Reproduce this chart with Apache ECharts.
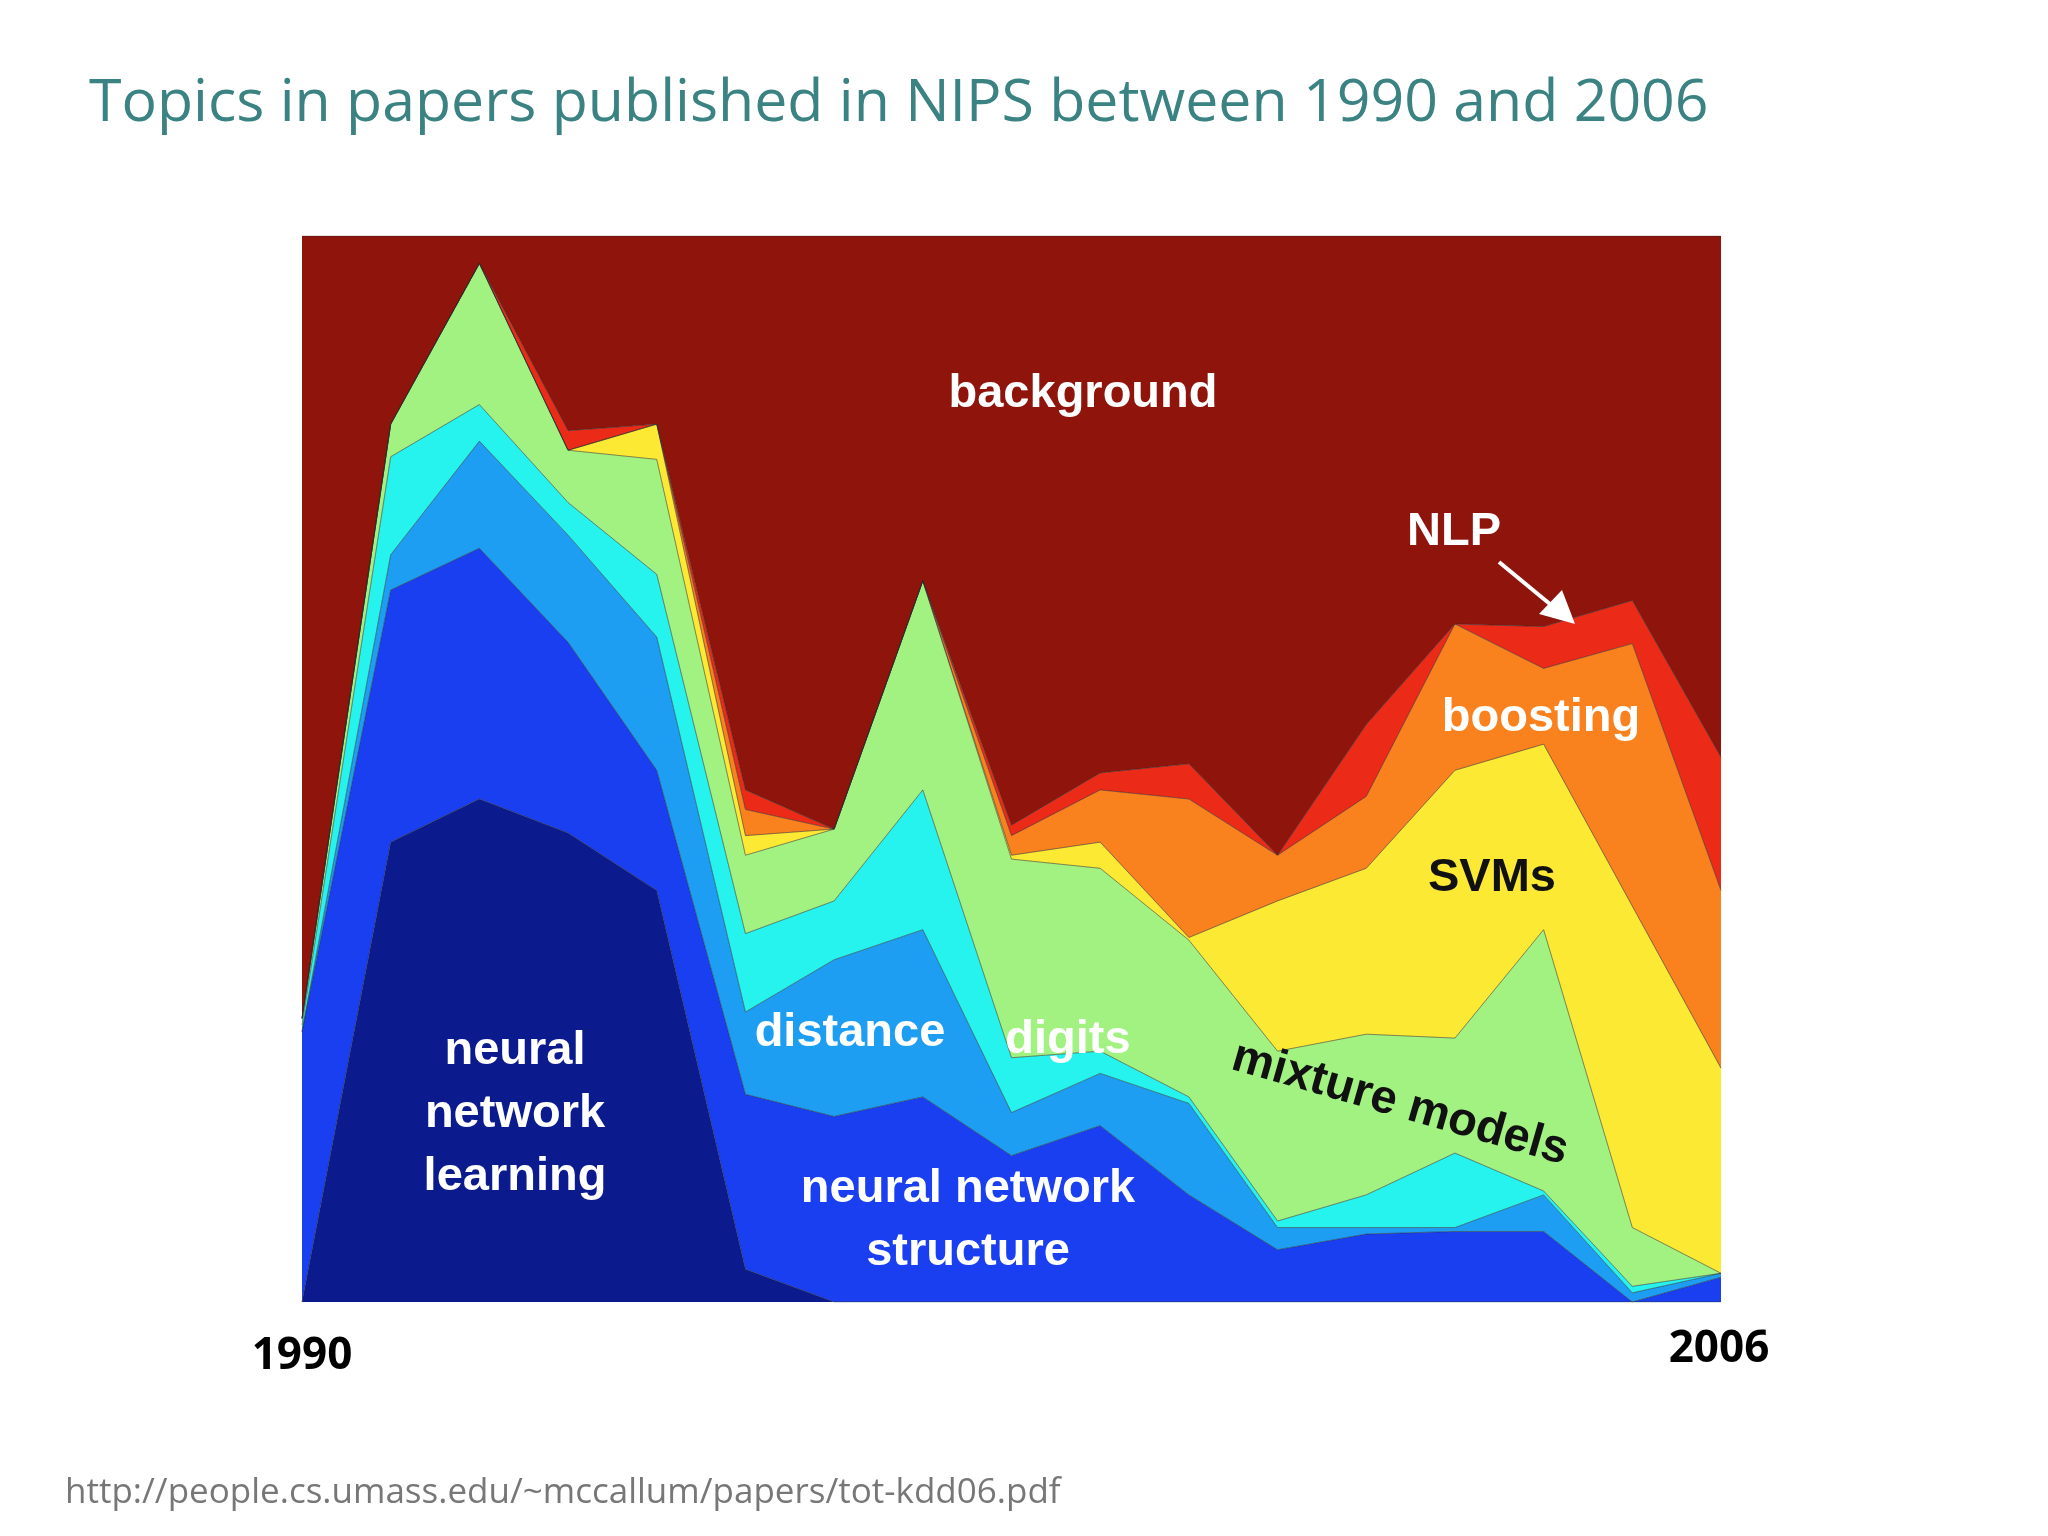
<!DOCTYPE html>
<html><head><meta charset="utf-8">
<script src="https://cdn.jsdelivr.net/npm/echarts@6/dist/echarts.min.js"></script>
<style>html,body{margin:0;background:#fff}#c{width:2048px;height:1536px}</style>
</head><body><div id="c"></div>
<script>
const years = ['1990','1991','1992','1993','1994','1995','1996','1997','1998','1999','2000','2001','2002','2003','2004','2005','2006'];
const nnLearning  = [0,352,385,359,315,25,0,0,0,0,0,0,0,0,0,0,0];
const nnStructure = [207,193,192,146,92,134,142,157,112,135,82,40,52,54,54,0,19];
const distance    = [0,27,82,82,102,63,120,128,33,40,70,17,5,3,28,7,3];
const digits      = [5,75,28,25,48,60,45,107,42,17,5,5,25,57,3,5,0];
const mixture     = [5,25,108,40,88,60,55,160,152,140,120,130,123,88,200,45,0];
const svms        = [0,0,0,0,27,15,0,0,3,20,2,115,127,205,142,246,157];
const boosting    = [0,0,0,0,0,20,0,0,15,40,106,35,55,112,58,201,136];
const nlp         = [0,0,0,15,0,15,0,0,8,13,27,0,55,0,32,33,102];
const background  = [599,144,21,149,144,424,454,264,451,411,404,474,374,297,299,279,399];

const S = 2048/1568;
const p = v => Math.round(v*S);
const layers = [
  ['neural network learning', nnLearning, '#0b1b8e'],
  ['neural network structure', nnStructure, '#1a3ff0'],
  ['distance', distance, '#1e9ef2'],
  ['digits', digits, '#26f2ee'],
  ['mixture models', mixture, '#a2f282'],
  ['SVMs', svms, '#fbe934'],
  ['boosting', boosting, '#f9821f'],
  ['NLP', nlp, '#ec2a18'],
  ['background', background, '#8e140c']
];
const series = layers.map(([n,d,c]) => ({
  name:n, type:'line', stack:'all', data:d, symbol:'none', smooth:false,
  lineStyle:{width:1, color:'rgba(40,40,40,0.55)'},
  areaStyle:{color:c, opacity:1}
}));
function lbl(text,x,y,color,size,extra){
  return Object.assign({type:'text', x:p(x), y:p(y), style:{text, fill:color||'#fff', font:'bold '+p(size||36)+'px "Liberation Sans", Arial', align:'center', verticalAlign:'middle', lineHeight:p(48)}, z:100}, extra||{});
}
const chart = echarts.init(document.getElementById('c'));
chart.setOption({
  animation:false,
  grid:{left:p(231), right:2048-p(1318), top:p(181), bottom:1536-p(997)},
  xAxis:{type:'category', data:years, boundaryGap:false, axisLabel:{show:false}, axisLine:{show:false}, axisTick:{show:false}},
  yAxis:{type:'value', min:0, max:816, show:false, splitLine:{show:false}},
  series,
  graphic:[
    {type:'text', x:p(68), y:p(80), style:{text:'Topics in papers published in NIPS between 1990 and 2006', fill:'#3b8282', font:p(45)+'px "Open Sans"', verticalAlign:'middle'}},
    lbl('background',829,302),
    lbl('NLP',1113,407),
    lbl('boosting',1180,550),
    lbl('SVMs',1142,672,'#111'),
    lbl('mixture models',1072,845,'#111',36,{rotation:-0.28}),
    lbl('neural\nnetwork\nlearning',394,853),
    lbl('distance',651,791),
    lbl('digits',818,796),
    lbl('neural network\nstructure',741,935),
    {type:'line', shape:{x1:p(1148),y1:p(430),x2:p(1196),y2:p(470)}, style:{stroke:'#fff', lineWidth:4}, z:100},
    {type:'polygon', shape:{points:[[p(1206),p(478)],[p(1178),p(470)],[p(1196),p(452)]]}, style:{fill:'#fff'}, z:100},
    {type:'text', x:p(231), y:p(1038), style:{text:'1990', fill:'#000', font:'bold '+p(34)+'px "Open Sans"', align:'center', verticalAlign:'middle'}},
    {type:'text', x:p(1316), y:p(1033), style:{text:'2006', fill:'#000', font:'bold '+p(34)+'px "Open Sans"', align:'center', verticalAlign:'middle'}},
    {type:'text', x:p(50), y:p(1143), style:{text:'http://people.cs.umass.edu/~mccallum/papers/tot-kdd06.pdf', fill:'#777', font:p(27)+'px "Open Sans"', verticalAlign:'middle'}}
  ]
});
</script></body></html>
